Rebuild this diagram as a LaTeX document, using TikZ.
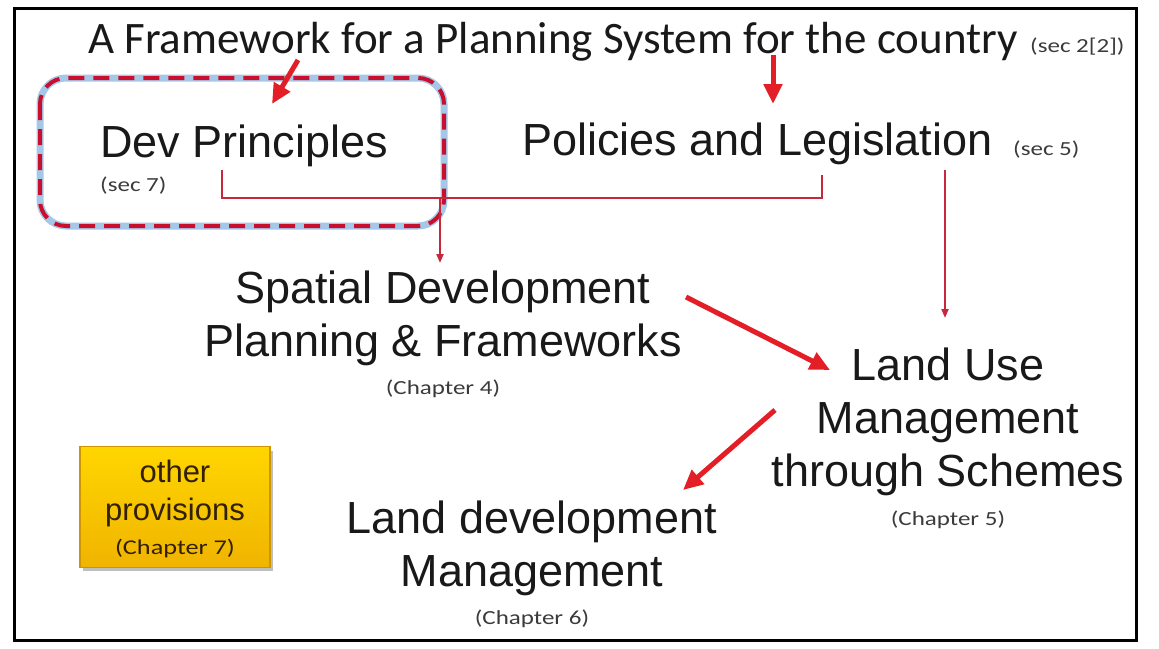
\documentclass[tikz,border=0pt]{standalone}
\usepackage{fontspec}
\setmainfont{Liberation Sans}
\newfontfamily\calib{Carlito}
\newfontfamily\calibw[FakeStretch=1.25]{Carlito}
\usetikzlibrary{arrows.meta,shadings}
\definecolor{arrred}{RGB}{228,30,38}
\definecolor{linered}{RGB}{200,40,60}
\definecolor{dashblue}{RGB}{165,200,232}
\definecolor{dashred}{RGB}{200,16,46}
\definecolor{goldtop}{RGB}{255,214,0}
\definecolor{goldbot}{RGB}{240,180,0}
\definecolor{goldedge}{RGB}{205,150,0}
\definecolor{txt}{RGB}{25,25,25}
\definecolor{browntxt}{RGB}{50,32,0}
\tikzset{
  big/.style={font=\fontsize{45}{53}\selectfont, text=txt, align=center, inner sep=0pt},
  small/.style={font=\calibw\fontsize{20}{24}\selectfont, text=txt!85, inner sep=0pt},
  thickarr/.style={draw=arrred, line width=5pt, -{Triangle[length=20pt,width=18pt]}},
  thinarr/.style={draw=linered, line width=2pt, -{Triangle[length=9pt,width=7pt]}},
  thinline/.style={draw=linered, line width=2pt},
}
\begin{document}
\begin{tikzpicture}[x=1pt,y=-1pt]
\useasboundingbox (0,0) rectangle (1159,648);
\fill[white] (0,0) rectangle (1159,648);
\draw[line width=3pt, black] (14,8) rectangle (1136,640);

% title
\node[font=\calib\fontsize{45}{52}\selectfont, text=txt, inner sep=0pt, anchor=base west] (title) at (88,53) {A Framework for a Planning System for the country};
\node[small, anchor=base west] (titlesec) at (1030,52) {(sec 2[2])};

% dashed box
\draw[dashblue, line width=7pt, rounded corners=26pt] (40,78) rectangle (444,226);
\draw[dashred, line width=4pt, dash pattern=on 16pt off 9pt, rounded corners=26pt] (40,78) rectangle (444,226);

\node[big, anchor=base west] (dev) at (100,157) {Dev Principles};
\node[small, anchor=base west] (devsec) at (100,191) {(sec 7)};

\node[big, anchor=base west] (pol) at (522,155) {Policies and Legislation};
\node[small, anchor=base west] (polsec) at (1013,155) {(sec 5)};

\node[big] (spat) at (443,318) {Spatial Development\\Planning \& Frameworks};
\node[small] (spatsec) at (443,389) {(Chapter 4)};

\node[big] (luse) at (948,422) {Land Use\\Management\\through Schemes};
\node[small] (lusesec) at (948,520) {(Chapter 5)};

\node[big] (ldev) at (532,548) {Land development\\Management};
\node[small] (ldevsec) at (532,619) {(Chapter 6)};

% yellow box
\fill[black!25] (83,451) rectangle (273,571);
\node[draw=goldedge, line width=1.5pt, top color=goldtop, bottom color=goldbot, minimum width=190pt, minimum height=121pt, inner sep=0pt] (other) at (175,507) {};
\node[font=\fontsize{31}{38}\selectfont, text=browntxt, align=center, inner sep=0pt] (othertxt) at (175,493) {other\\provisions};
\node[font=\calibw\fontsize{21}{24}\selectfont, text=browntxt, inner sep=0pt] (othersec) at (175,549) {(Chapter 7)};

% connectors
\coordinate (t1) at (298,60);
\coordinate (t1e) at (272,104);
\coordinate (t2) at (773,55);
\coordinate (t2e) at (773,104);
\draw[thickarr] (t1) -- (t1e);
\draw[thickarr] (t2) -- (t2e);

\coordinate (d1) at (222,170);
\coordinate (p1) at (822,175);
\coordinate (j1) at (440,198);
\coordinate (s1) at (440,263);
\draw[thinline] (d1) |- (p1 |- j1) -- (p1);
\draw[thinarr] (j1) -- (s1);

\coordinate (p2) at (945,170);
\coordinate (l2) at (945,318);
\draw[thinarr] (p2) -- (l2);

\coordinate (a1) at (686,297);
\coordinate (a1e) at (830,370);
\draw[thickarr] (a1) -- (a1e);
\coordinate (a2) at (775,410);
\coordinate (a2e) at (683,490);
\draw[thickarr] (a2) -- (a2e);
\end{tikzpicture}
\end{document}
